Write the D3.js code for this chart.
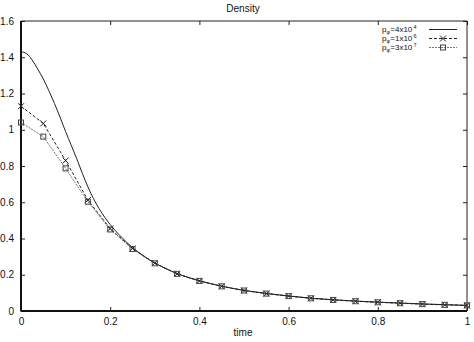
<!DOCTYPE html>
<html><head><meta charset="utf-8">
<script src="https://cdn.jsdelivr.net/npm/d3@7"></script>
<style>body{margin:0;background:#fff}svg{display:block}text{font-family:"Liberation Sans",Arial,sans-serif;fill:#111}</style>
</head><body><svg id="c" width="474" height="342"></svg>
<script>
const title = "Density";
const xLabel = "time";
const xTicks = [0, 0.2, 0.4, 0.6, 0.8, 1];
const yTicks = [0, 0.2, 0.4, 0.6, 0.8, 1, 1.2, 1.4, 1.6];
const xTickLabels = ["0", "0.2", "0.4", "0.6", "0.8", "1"];
const yTickLabels = ["0", "0.2", "0.4", "0.6", "0.8", "1", "1.2", "1.4", "1.6"];

// series 1: solid, dense sampling
const t1 = [0,0.0125,0.025,0.0375,0.05,0.0625,0.075,0.0875,0.1,0.1125,0.125,0.1375,0.15,0.1625,0.175,0.1875,0.2,0.225,0.25,0.275,0.3,0.35,0.4,0.45,0.5,0.55,0.6,0.65,0.7,0.75,0.8,0.85,0.9,0.95,1];
const v1 = [1.43,1.42,1.385,1.335,1.28,1.215,1.145,1.07,0.99,0.915,0.84,0.76,0.685,0.62,0.565,0.518,0.477,0.408,0.35,0.303,0.265,0.207,0.167,0.137,0.114,0.097,0.083,0.071,0.062,0.055,0.049,0.044,0.039,0.035,0.031];
// series 2 and 3: markers every 0.05
const tm = [0,0.05,0.1,0.15,0.2,0.25,0.3,0.35,0.4,0.45,0.5,0.55,0.6,0.65,0.7,0.75,0.8,0.85,0.9,0.95,1];
const v2 = [1.13,1.035,0.83,0.612,0.455,0.345,0.264,0.205,0.166,0.136,0.113,0.096,0.082,0.07,0.061,0.054,0.048,0.043,0.038,0.034,0.031];
const v3 = [1.04,0.962,0.787,0.603,0.45,0.342,0.263,0.205,0.166,0.136,0.113,0.096,0.082,0.07,0.061,0.054,0.048,0.043,0.038,0.034,0.031];
const legendExp = ["4", "6", "7"];
const legendMant = ["4", "1", "3"];

const svg = d3.select("#c");
const L = 21, R = 467, T = 21, B = 311;
const x = d3.scaleLinear().domain([0, 1]).range([L, R]);
const y = d3.scaleLinear().domain([0, 1.6]).range([B, T]);

// ticks (inward, mirrored)
const g = svg.append("g");
g.append("g").attr("transform", `translate(0,${B})`)
  .call(d3.axisBottom(x).tickValues(xTicks).tickSizeInner(-4).tickSizeOuter(0).tickPadding(7).tickFormat((d,i)=>xTickLabels[i]));
g.append("g").attr("transform", `translate(0,${T})`)
  .call(d3.axisTop(x).tickValues(xTicks).tickSizeInner(-4).tickSizeOuter(0).tickFormat(""));
g.append("g").attr("transform", `translate(${L},0)`)
  .call(d3.axisLeft(y).tickValues(yTicks).tickSizeInner(-4).tickSizeOuter(0).tickPadding(7).tickFormat((d,i)=>yTickLabels[i]));
g.append("g").attr("transform", `translate(${R},0)`)
  .call(d3.axisRight(y).tickValues(yTicks).tickSizeInner(-4).tickSizeOuter(0).tickFormat(""));
g.selectAll(".domain").remove();
g.selectAll(".tick line").attr("stroke", "#222").attr("stroke-width", 1);
g.selectAll(".tick text").attr("font-size", 10).attr("font-family", '"Liberation Sans",Arial,sans-serif').attr("fill", "#111");

// frame
svg.append("line").attr("x1", L).attr("x2", R).attr("y1", T).attr("y2", T).attr("stroke", "#222").attr("stroke-width", 1);
svg.append("line").attr("x1", R).attr("x2", R).attr("y1", T).attr("y2", B).attr("stroke", "#222").attr("stroke-width", 1);
svg.append("line").attr("x1", L).attr("x2", L).attr("y1", T).attr("y2", B + 0.5).attr("stroke", "#111").attr("stroke-width", 2);
svg.append("line").attr("x1", L).attr("x2", R).attr("y1", B).attr("y2", B).attr("stroke", "#111").attr("stroke-width", 2);

// title and axis label
svg.append("text").attr("x", 243).attr("y", 12).attr("text-anchor", "middle").attr("font-size", 10).text(title);
svg.append("text").attr("x", 243).attr("y", 336).attr("text-anchor", "middle").attr("font-size", 10).text(xLabel);

// lines
const d1 = t1.map((t, i) => [t, v1[i]]);
const d2 = tm.map((t, i) => [t, v2[i]]);
const d3s = tm.map((t, i) => [t, v3[i]]);
const lineSmooth = d3.line().x(d => x(d[0])).y(d => y(d[1])).curve(d3.curveMonotoneX);
const lineLin = d3.line().x(d => x(d[0])).y(d => y(d[1]));

svg.append("path").datum(d3s).attr("d", lineLin).attr("fill", "none").attr("stroke", "#777").attr("stroke-width", 1).attr("stroke-dasharray", "2,1");
svg.append("path").datum(d2).attr("d", lineLin).attr("fill", "none").attr("stroke", "#222").attr("stroke-width", 1).attr("stroke-dasharray", "3,2");
svg.append("path").datum(d1).attr("d", lineSmooth).attr("fill", "none").attr("stroke", "#222").attr("stroke-width", 1);

function cross(sel, cx, cy) {
  const s = 3;
  sel.append("path").attr("d", `M${cx-s},${cy-s}L${cx+s},${cy+s}M${cx-s},${cy+s}L${cx+s},${cy-s}`).attr("stroke", "#222").attr("stroke-width", 1);
}
function square(sel, cx, cy) {
  const s = 2.5;
  sel.append("rect").attr("x", cx - s).attr("y", cy - s).attr("width", 2*s).attr("height", 2*s).attr("fill", "none").attr("stroke", "#444").attr("stroke-width", 1);
}
const mg = svg.append("g");
d2.forEach(d => cross(mg, x(d[0]), y(d[1])));
d3s.forEach(d => square(mg, x(d[0]), y(d[1])));

// legend
const lg = svg.append("g");
const rowsY = [29.5, 38.5, 47.5];
const styles = [
  {stroke: "#222", dash: null},
  {stroke: "#222", dash: "3,2"},
  {stroke: "#777", dash: "2,1"}
];
const fs = 8, fss = 5.5;
rowsY.forEach((ry, i) => {
  let cx = 382;
  const base = ry + 2.5;
  const p = lg.append("text").attr("x", cx).attr("y", base).attr("font-size", fs).text("p");
  cx += p.node().getComputedTextLength();
  const sub = lg.append("text").attr("x", cx).attr("y", base + 2).attr("font-size", fss).text("\u03c6");
  cx += sub.node().getComputedTextLength() + 0.3;
  lg.append("text").attr("x", cx).attr("y", base).attr("font-size", fs).attr("textLength", 22).attr("lengthAdjust", "spacingAndGlyphs").text("=" + legendMant[i] + "x10");
  cx += 22;
  lg.append("text").attr("x", cx + 1.2).attr("y", base - 3.5).attr("font-size", fss).text(legendExp[i]);
  const ln = lg.append("line").attr("x1", 429).attr("x2", 457).attr("y1", ry).attr("y2", ry)
    .attr("stroke", styles[i].stroke).attr("stroke-width", 1);
  if (styles[i].dash) ln.attr("stroke-dasharray", styles[i].dash);
  if (i === 1) cross(lg, 443, ry);
  if (i === 2) square(lg, 443, ry);
});
</script></body></html>
